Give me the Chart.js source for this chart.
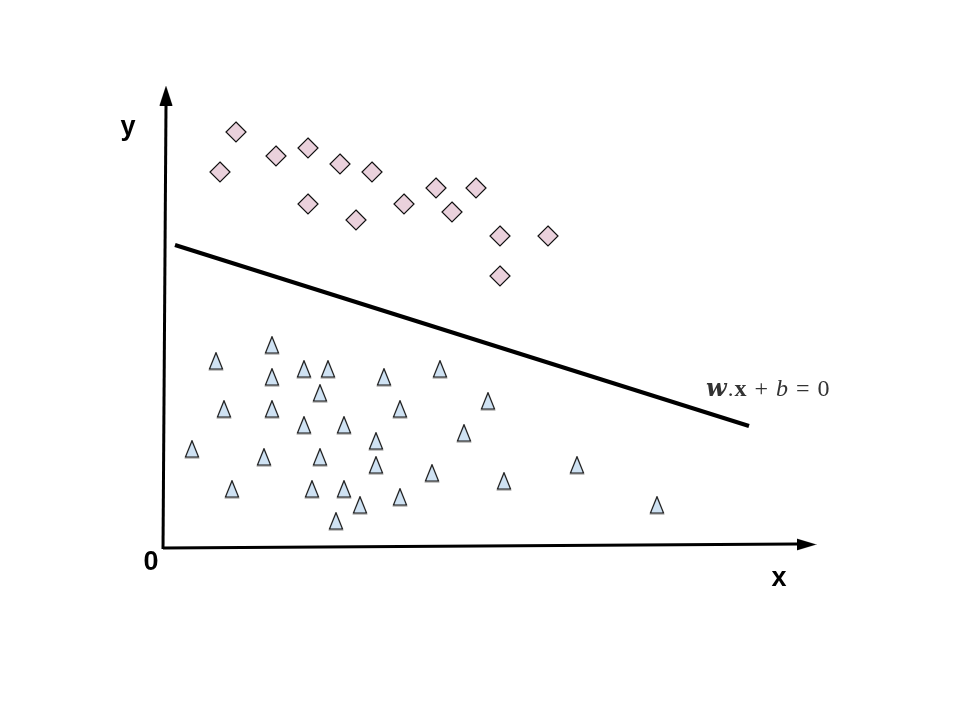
<!DOCTYPE html>
<html>
<head>
<meta charset="utf-8">
<script src="https://cdn.jsdelivr.net/npm/chart.js@4.4.1/dist/chart.umd.min.js"></script>
<style>
html,body{margin:0;padding:0;background:#fff;}
#wrap{width:960px;height:720px;}
</style>
</head>
<body>
<div id="wrap"><canvas id="c" width="960" height="720"></canvas></div>
<script>
// ---- data (abstract feature space: x1 horizontal, x2 vertical) ----
const classAX = [73, 57, 113, 145, 177, 209, 145, 193, 241, 273, 289, 313, 337, 385, 337];
const classAY = [417, 377, 393, 401, 385, 377, 345, 329, 345, 361, 337, 361, 313, 313, 273];
const classBX = [109, 53, 109, 141, 165, 157, 221, 277, 61, 109, 237, 325, 141, 181, 213, 301, 29, 101, 157, 213, 269, 341, 414, 69, 149, 181, 197, 237, 173, 494];
const classBY = [204, 188, 172, 180, 180, 156, 172, 180, 140, 140, 140, 148, 124, 124, 108, 116, 100, 92, 92, 84, 76, 68, 84, 60, 60, 60, 44, 52, 28, 44];
const boundaryX = [12, 586];
const boundaryY = [304, 123];
const yAxisX = [0, 3];
const yAxisY = [0, 444];
const xAxisX = [0, 634];
const xAxisY = [1, 5];
const yArrowTip = [3, 453.5];
const xArrowTip = [643.5, 4.5];

const toPts = (xs, ys) => xs.map((x, i) => ({x, y: ys[i]}));

// ---- marker images ----
function makeCanvas(w, h, draw) {
  const c = document.createElement('canvas');
  c.width = w; c.height = h;
  draw(c.getContext('2d'));
  return c;
}
const triImg = makeCanvas(16, 19, g => {
  g.beginPath(); g.moveTo(8, 1.2); g.lineTo(14.6, 17.6); g.lineTo(1.4, 17.6); g.closePath();
  g.fillStyle = '#cfe2f3'; g.fill(); g.lineWidth = 1.2; g.strokeStyle = '#111'; g.stroke();
});
const diaImg = makeCanvas(22, 22, g => {
  g.beginPath(); g.moveTo(11, 1); g.lineTo(21, 11); g.lineTo(11, 21); g.lineTo(1, 11); g.closePath();
  g.fillStyle = '#ead1dc'; g.fill(); g.lineWidth = 1.2; g.strokeStyle = '#111'; g.stroke();
});
const upArrow = makeCanvas(14, 20, g => {
  g.beginPath(); g.moveTo(7, 0); g.lineTo(13.5, 20); g.lineTo(0.5, 20); g.closePath();
  g.fillStyle = '#000'; g.fill();
});
const rightArrow = makeCanvas(20, 13, g => {
  g.beginPath(); g.moveTo(20, 6.5); g.lineTo(0, 0.5); g.lineTo(0, 12.5); g.closePath();
  g.fillStyle = '#000'; g.fill();
});

// ---- text annotations ----
const textLabels = [
  {text: 'y', x: -35, y: 421},
  {text: 'x', x: 616, y: -30},
  {text: '0', x: -12, y: -14}
];
const eqAnchor = {x: 543, y: 153};

const textPlugin = {
  id: 'texts',
  afterDatasetsDraw(chart) {
    const {ctx, scales: {x, y}} = chart;
    ctx.save();
    ctx.fillStyle = '#000';
    ctx.font = 'bold 27px "Liberation Sans", Arial, sans-serif';
    ctx.textAlign = 'center';
    ctx.textBaseline = 'middle';
    textLabels.forEach(l => ctx.fillText(l.text, x.getPixelForValue(l.x), y.getPixelForValue(l.y)));
    // equation w.x + b = 0
    const parts = [
      {t: 'w', f: 'bold italic 24px "DejaVu Serif", serif', gap: 1},
      {t: '.', f: '23px "Liberation Serif", serif', gap: 1},
      {t: 'x', f: 'bold 24px "Liberation Serif", serif', gap: 8},
      {t: '+', f: '24px "Liberation Serif", serif', gap: 8},
      {t: 'b', f: 'italic 24px "Liberation Serif", serif', gap: 8},
      {t: '=', f: '24px "Liberation Serif", serif', gap: 8},
      {t: '0', f: '24px "Liberation Serif", serif', gap: 0}
    ];
    let px = x.getPixelForValue(eqAnchor.x);
    const py = y.getPixelForValue(eqAnchor.y);
    ctx.textAlign = 'left';
    ctx.textBaseline = 'alphabetic';
    ctx.fillStyle = '#333';
    parts.forEach(p => {
      ctx.font = p.f;
      ctx.fillText(p.t, px, py);
      px += ctx.measureText(p.t).width + p.gap;
    });
    ctx.restore();
  }
};

new Chart(document.getElementById('c'), {
  type: 'scatter',
  data: {
    datasets: [
      {label: 'y axis', data: toPts(yAxisX, yAxisY), showLine: true, borderColor: '#000', borderWidth: 3, pointRadius: 0, borderCapStyle: 'butt'},
      {label: 'x axis', data: toPts(xAxisX, xAxisY), showLine: true, borderColor: '#000', borderWidth: 3, pointRadius: 0, borderCapStyle: 'butt'},
      {label: 'y arrow', data: [{x: yArrowTip[0], y: yArrowTip[1]}], pointStyle: upArrow, pointRadius: 10},
      {label: 'x arrow', data: [{x: xArrowTip[0], y: xArrowTip[1]}], pointStyle: rightArrow, pointRadius: 10},
      {label: 'boundary', data: toPts(boundaryX, boundaryY), showLine: true, borderColor: '#000', borderWidth: 4, pointRadius: 0, borderCapStyle: 'butt'},
      {label: 'class +', data: toPts(classAX, classAY), pointStyle: diaImg, pointRadius: 10},
      {label: 'class -', data: toPts(classBX, classBY), pointStyle: triImg, pointRadius: 9}
    ]
  },
  options: {
    responsive: false,
    animation: false,
    events: [],
    layout: {padding: 0, autoPadding: false},
    plugins: {legend: {display: false}, tooltip: {enabled: false}},
    scales: {
      x: {type: 'linear', display: false, min: -163, max: 797},
      y: {type: 'linear', display: false, min: -171, max: 549}
    }
  },
  plugins: [textPlugin]
});
</script>
</body>
</html>
